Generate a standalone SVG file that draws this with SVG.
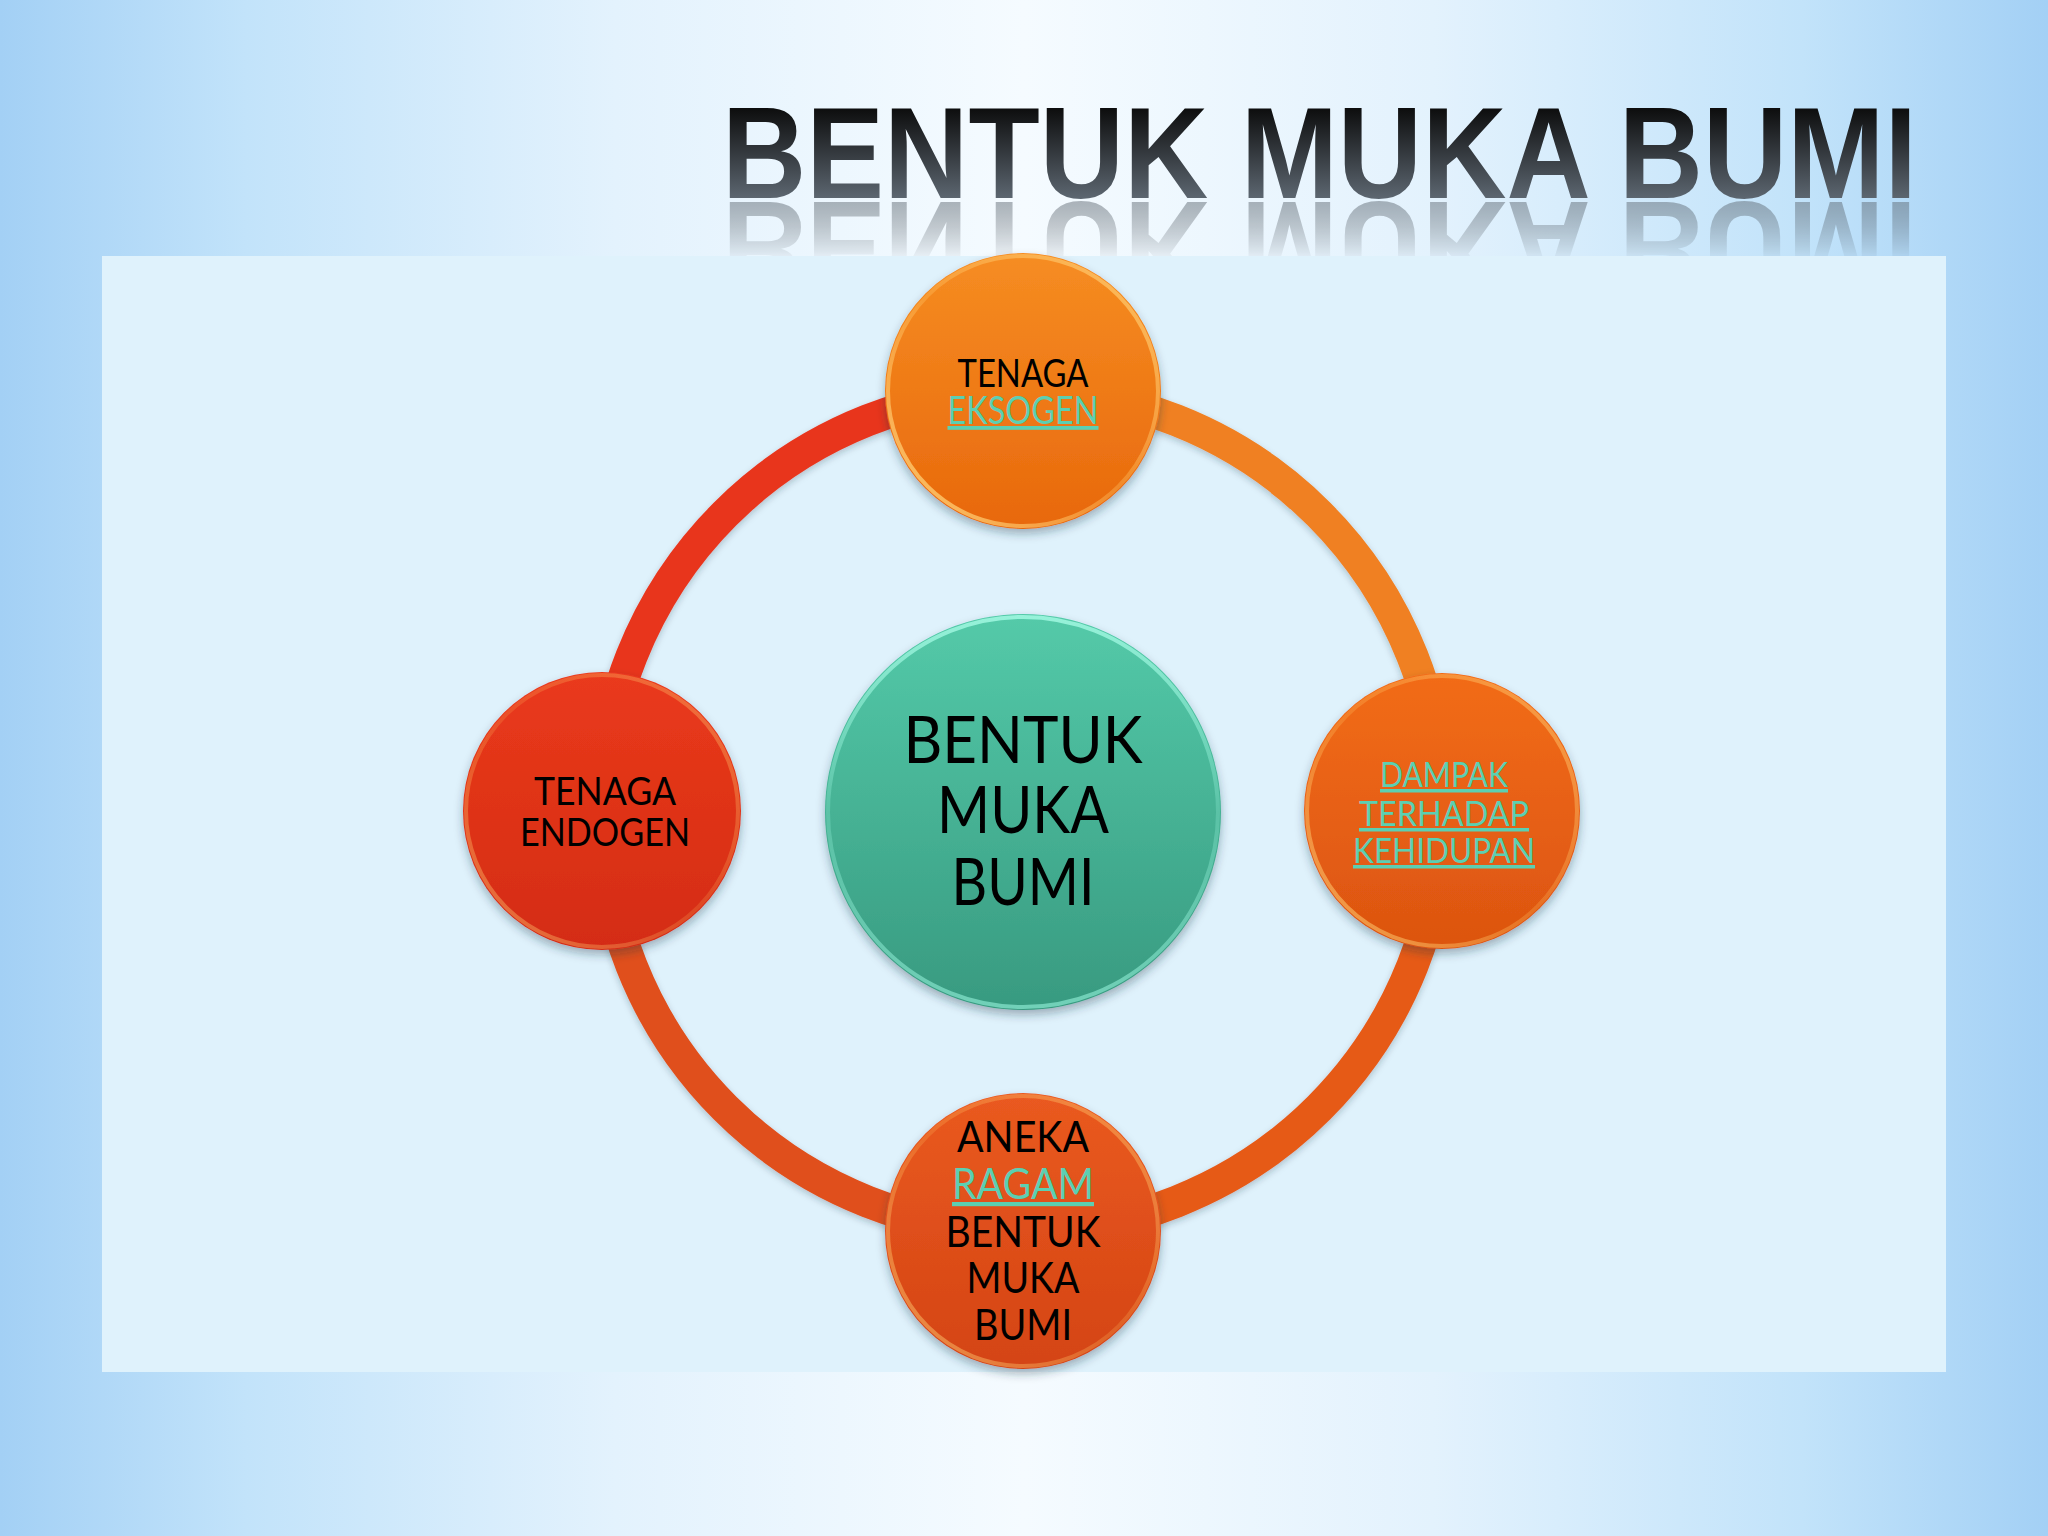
<svg xmlns="http://www.w3.org/2000/svg" xmlns:xlink="http://www.w3.org/1999/xlink" width="2048" height="1536" viewBox="0 0 2048 1536">
  <defs>
    <style>
      .lbl { font-family: Lato, "Open Sans", "Liberation Sans", sans-serif; text-anchor: middle; fill: #000000; }
      .link { fill: #5ccfb2; text-decoration: underline; }
      .title { font-family: "Liberation Sans", Arial, sans-serif; font-weight: bold; font-size: 130px; }
      .ring { fill: none; stroke-width: 32; stroke-linecap: butt; }
      .rim { fill: none; stroke-width: 4; }
    </style>
    <linearGradient id="bgH" x1="0" y1="0" x2="1" y2="0">
      <stop offset="0" stop-color="#a3d0f5"/>
      <stop offset="0.12" stop-color="#c2e3fa"/>
      <stop offset="0.3" stop-color="#e3f2fd"/>
      <stop offset="0.5" stop-color="#f5fbff"/>
      <stop offset="0.7" stop-color="#e3f2fd"/>
      <stop offset="0.88" stop-color="#c2e3fa"/>
      <stop offset="1" stop-color="#a3d0f5"/>
    </linearGradient>
    <linearGradient id="titleFill" gradientUnits="userSpaceOnUse" x1="0" y1="105" x2="0" y2="198">
      <stop offset="0" stop-color="#0a0a0a"/>
      <stop offset="1" stop-color="#5c6670"/>
    </linearGradient>
    <linearGradient id="reflFade" gradientUnits="userSpaceOnUse" x1="0" y1="200" x2="0" y2="262">
      <stop offset="0" stop-color="#ffffff" stop-opacity="0.5"/>
      <stop offset="1" stop-color="#ffffff" stop-opacity="0"/>
    </linearGradient>
    <mask id="reflMask" maskUnits="userSpaceOnUse" x="0" y="198" width="2048" height="70">
      <rect x="0" y="198" width="2048" height="70" fill="url(#reflFade)"/>
    </mask>
    <linearGradient id="gTop" x1="0" y1="0" x2="0" y2="1">
      <stop offset="0" stop-color="#f68d22"/>
      <stop offset="1" stop-color="#e8680c"/>
    </linearGradient>
    <linearGradient id="gLeft" x1="0" y1="0" x2="0" y2="1">
      <stop offset="0" stop-color="#ea3a1c"/>
      <stop offset="1" stop-color="#d42c12"/>
    </linearGradient>
    <linearGradient id="gRight" x1="0" y1="0" x2="0" y2="1">
      <stop offset="0" stop-color="#f26c18"/>
      <stop offset="1" stop-color="#dc5410"/>
    </linearGradient>
    <linearGradient id="gBottom" x1="0" y1="0" x2="0" y2="1">
      <stop offset="0" stop-color="#ea5a20"/>
      <stop offset="1" stop-color="#d44414"/>
    </linearGradient>
    <linearGradient id="gCenter" x1="0" y1="0" x2="0" y2="1">
      <stop offset="0" stop-color="#54caa9"/>
      <stop offset="1" stop-color="#389a80"/>
    </linearGradient>
    <linearGradient id="rimWarm" x1="0" y1="1" x2="1" y2="0">
      <stop offset="0" stop-color="#ffd27a" stop-opacity="0.95"/>
      <stop offset="0.5" stop-color="#ffc060" stop-opacity="0.35"/>
      <stop offset="1" stop-color="#ffd27a" stop-opacity="0.8"/>
    </linearGradient>
    <linearGradient id="rimTeal" x1="0" y1="0" x2="0" y2="1">
      <stop offset="0" stop-color="#9af4dc" stop-opacity="0.95"/>
      <stop offset="0.5" stop-color="#8ae8d0" stop-opacity="0.3"/>
      <stop offset="1" stop-color="#8ae8d0" stop-opacity="0.7"/>
    </linearGradient>
    <filter id="shadow" x="-20%" y="-20%" width="140%" height="140%">
      <feDropShadow dx="0" dy="5" stdDeviation="5" flood-color="#203040" flood-opacity="0.35"/>
    </filter>
    <filter id="ringShadow" x="-10%" y="-10%" width="120%" height="120%">
      <feDropShadow dx="0" dy="3" stdDeviation="3" flood-color="#203040" flood-opacity="0.25"/>
    </filter>
  </defs>

  <!-- background -->
  <rect x="0" y="0" width="2048" height="1536" fill="url(#bgH)"/>

  <!-- title with reflection -->
  <g id="title">
    <text id="titleText" class="title" x="722" y="198" textLength="1195" lengthAdjust="spacingAndGlyphs" fill="url(#titleFill)">BENTUK MUKA BUMI</text>
    <g mask="url(#reflMask)">
      <use xlink:href="#titleText" href="#titleText" transform="translate(0,400) scale(1,-1)"/>
    </g>
  </g>

  <!-- panel -->
  <rect id="panel" x="102" y="256" width="1844" height="1116" fill="#dff2fc"/>

  <!-- connectors (ring) -->
  <g id="connectors" filter="url(#ringShadow)">
    <path class="ring" d="M 602 811 A 420 420 0 0 1 1022 391" stroke="#e8361c"/>
    <path class="ring" d="M 1022 391 A 420 420 0 0 1 1442 811" stroke="#f08020"/>
    <path class="ring" d="M 1442 811 A 420 420 0 0 1 1022 1231" stroke="#e65a16"/>
    <path class="ring" d="M 1022 1231 A 420 420 0 0 1 602 811" stroke="#e0501a"/>
  </g>

  <!-- center node -->
  <g id="node-center">
    <circle cx="1023" cy="812" r="198" fill="url(#gCenter)" filter="url(#shadow)"/>
    <circle class="rim" cx="1023" cy="812" r="195" stroke="url(#rimTeal)"/>
    <text class="lbl" font-size="66" x="1023" y="763" textLength="239" lengthAdjust="spacingAndGlyphs">BENTUK</text>
    <text class="lbl" font-size="66" x="1023" y="833" textLength="172" lengthAdjust="spacingAndGlyphs">MUKA</text>
    <text class="lbl" font-size="66" x="1023" y="905" textLength="143" lengthAdjust="spacingAndGlyphs">BUMI</text>
  </g>

  <!-- top node -->
  <g id="node-top">
    <circle cx="1023" cy="391" r="138" fill="url(#gTop)" filter="url(#shadow)"/>
    <circle class="rim" cx="1023" cy="391" r="135" stroke="url(#rimWarm)"/>
    <text class="lbl" font-size="38" x="1023" y="387" textLength="131" lengthAdjust="spacingAndGlyphs">TENAGA</text>
    <text class="lbl link" font-size="38" x="1023" y="424" textLength="151" lengthAdjust="spacingAndGlyphs">EKSOGEN</text>
  </g>

  <!-- left node -->
  <g id="node-left">
    <circle cx="602" cy="811" r="139" fill="url(#gLeft)" filter="url(#shadow)"/>
    <circle class="rim" cx="602" cy="811" r="136" stroke="url(#rimWarm)" opacity="0.5"/>
    <text class="lbl" font-size="39" x="605" y="805" textLength="142" lengthAdjust="spacingAndGlyphs">TENAGA</text>
    <text class="lbl" font-size="39" x="605" y="846" textLength="170" lengthAdjust="spacingAndGlyphs">ENDOGEN</text>
  </g>

  <!-- right node -->
  <g id="node-right">
    <circle cx="1442" cy="811" r="138" fill="url(#gRight)" filter="url(#shadow)"/>
    <circle class="rim" cx="1442" cy="811" r="135" stroke="url(#rimWarm)" opacity="0.7"/>
    <text class="lbl link" font-size="35" x="1444" y="787" textLength="128" lengthAdjust="spacingAndGlyphs">DAMPAK</text>
    <text class="lbl link" font-size="35" x="1444" y="826" textLength="170" lengthAdjust="spacingAndGlyphs">TERHADAP</text>
    <text class="lbl link" font-size="35" x="1444" y="863" textLength="182" lengthAdjust="spacingAndGlyphs">KEHIDUPAN</text>
  </g>

  <!-- bottom node -->
  <g id="node-bottom">
    <circle cx="1023" cy="1231" r="138" fill="url(#gBottom)" filter="url(#shadow)"/>
    <circle class="rim" cx="1023" cy="1231" r="135" stroke="url(#rimWarm)" opacity="0.6"/>
    <text class="lbl" font-size="42" x="1023" y="1152" textLength="132" lengthAdjust="spacingAndGlyphs">ANEKA</text>
    <text class="lbl link" font-size="42" x="1023" y="1199" textLength="142" lengthAdjust="spacingAndGlyphs">RAGAM</text>
    <text class="lbl" font-size="42" x="1023" y="1247" textLength="155" lengthAdjust="spacingAndGlyphs">BENTUK</text>
    <text class="lbl" font-size="42" x="1023" y="1293" textLength="113" lengthAdjust="spacingAndGlyphs">MUKA</text>
    <text class="lbl" font-size="42" x="1023" y="1340" textLength="98" lengthAdjust="spacingAndGlyphs">BUMI</text>
  </g>
</svg>
